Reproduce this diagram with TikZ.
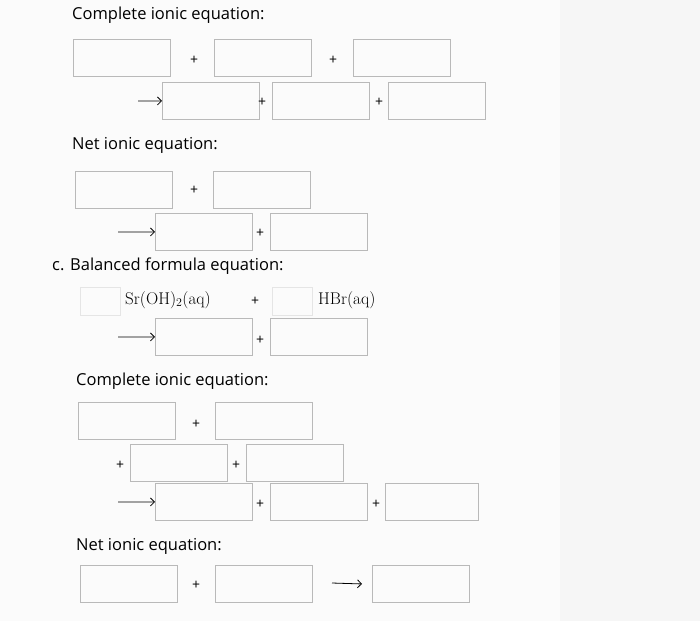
\documentclass[tikz,border=0pt]{standalone}
\usepackage{fontspec}
\setsansfont{Open Sans}
\usetikzlibrary{arrows.meta}
\begin{document}
\begin{tikzpicture}[x=1pt,y=-1pt,
  bx/.style={draw=gray!55,line width=0.9pt,fill=white!97!gray,minimum width=#1,minimum height=37pt,inner sep=0pt,anchor=north west},
  bx/.default=97pt,
  fbx/.style={draw=gray!20,fill=white!97!gray,minimum width=40pt,minimum height=28pt,inner sep=0pt,anchor=north west},
  pl/.style={font=\sffamily\fontsize{14}{16}\selectfont},
  lbl/.style={font=\sffamily\fontsize{16.5}{19}\selectfont,anchor=west,inner sep=0pt},
  fm/.style={font=\fontsize{17}{20}\selectfont,anchor=west,inner sep=0pt},
  ar/.style={-{Straight Barb[length=4pt]},line width=0.8pt}]
\fill[gray!7] (0,0) rectangle (700,621);
\fill[gray!3] (0,0) rectangle (560,621);
\node[lbl] (t1) at (72,15) {Complete ionic equation:};
\node[bx] (a1) at (73,39) {}; \node[pl] (p1) at (194,60) {+};
\node[bx] (a2) at (214,39) {}; \node[pl] (p2) at (333,60) {+};
\node[bx] (a3) at (353,39) {};
\node[bx] (b1) at (162,82) {}; \node[pl] (p3) at (262,102) {+};
\node[bx] (b2) at (272,82) {}; \node[pl] (p4) at (379,102) {+};
\node[bx] (b3) at (388,82) {};
\coordinate (r1s) at (138,101); \draw[ar] (r1s) -- (b1.west);
\node[lbl] (t2) at (72,145) {Net ionic equation:};
\node[bx] (c1) at (75,171) {}; \node[pl] (p5) at (194,190) {+};
\node[bx] (c2) at (213,171) {};
\node[bx] (d1) at (155,213) {}; \node[pl] (p6) at (260,233) {+};
\node[bx] (d2) at (270,213) {};
\coordinate (r2s) at (118,232); \draw[ar] (r2s) -- (d1.west);
\node[lbl] (t3) at (52,266) {c. Balanced formula equation:};
\node[fbx] (e1) at (80,287) {};
\node[fm] (sr) at (125,300) {$\mathrm{Sr(OH)_2(aq)}$};
\node[pl] (p7) at (255,301) {+};
\node[fbx] (e2) at (272,287) {};
\node[fm] (hbr) at (318,300) {$\mathrm{HBr(aq)}$};
\node[bx] (f1) at (155,318) {}; \node[pl] (p8) at (260,340) {+};
\node[bx] (f2) at (270,318) {};
\coordinate (r3s) at (118,337); \draw[ar] (r3s) -- (f1.west);
\node[lbl] (t4) at (76,381) {Complete ionic equation:};
\node[bx] (g1) at (78,402) {}; \node[pl] (p9) at (196,424) {+};
\node[bx] (g2) at (215,402) {};
\node[pl] (p10) at (120,465) {+};
\node[bx] (h1) at (130,444) {}; \node[pl] (p11) at (236,465) {+};
\node[bx] (h2) at (246,444) {};
\node[bx] (i1) at (155,483) {}; \node[pl] (p12) at (260,504) {+};
\node[bx] (i2) at (270,483) {}; \node[pl] (p13) at (376,504) {+};
\node[bx=93pt] (i3) at (385,483) {};
\coordinate (r4s) at (118,502); \draw[ar] (r4s) -- (i1.west);
\node[lbl] (t5) at (76,546) {Net ionic equation:};
\node[bx] (k1) at (80,565) {}; \node[pl] (p14) at (196,585) {+};
\node[bx] (k2) at (215,565) {};
\node[bx] (k3) at (372,565) {};
\coordinate (r5s) at (332,583); \draw[ar] (r5s) -- ([xshift=-10pt]k3.west);
\end{tikzpicture}
\end{document}
